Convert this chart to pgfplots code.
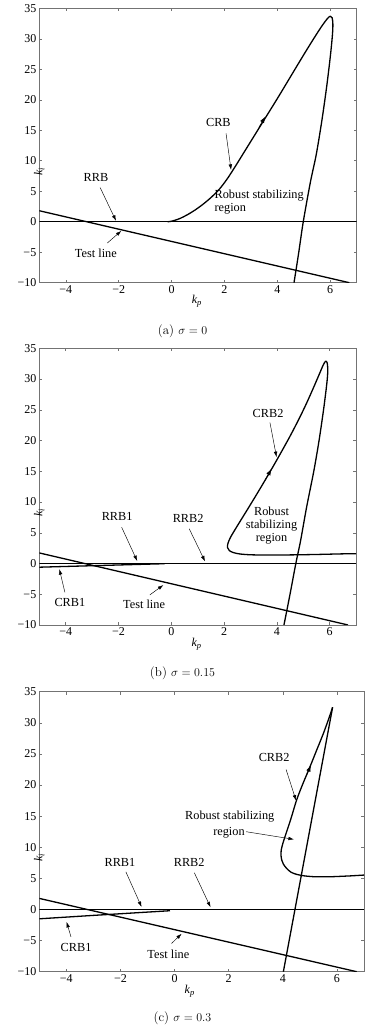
\documentclass[border=0pt]{standalone}
\usepackage{fontspec}
\usepackage{pgfplots}
\pgfplotsset{compat=1.18}
\usetikzlibrary{arrows.meta}
\newfontfamily\tnr{Liberation Serif}
\newcommand{\lbl}{\tnr\fontsize{12.3}{13}\selectfont}
\newcommand{\kp}{{\tnr\fontsize{12}{12}\selectfont\itshape k\raisebox{-0.35ex}{\fontsize{8.5}{8.5}\selectfont p}}}
\newcommand{\ki}{{\tnr\fontsize{12}{12}\selectfont\itshape k\raisebox{-0.35ex}{\fontsize{8.5}{8.5}\selectfont i}}}
\tikzset{
  arr/.style={-{Latex[length=5.5pt,width=3.6pt]}, line width=0.45pt, black},
  dirarr/.style={-{Latex[length=6.5pt,width=4.5pt]}, line width=0.6pt, black},
}
\pgfplotsset{
  myax/.style={
    scale only axis, anchor=south west,
    xmin=-5, xmax=7, ymin=-10, ymax=35,
    xtick={-4,-2,0,2,4,6}, xticklabels={−4,−2,0,2,4,6},
    ytick={-10,-5,0,5,10,15,20,25,30,35},
    yticklabels={−10,−5,0,5,10,15,20,25,30,35},
    tick align=inside, major tick length=3pt,
    axis line style={draw=black!55, line width=0.6pt},
    tick style={draw=black!55, line width=0.5pt},
    ticklabel style={font=\tnr\fontsize{12}{12}\selectfont},
    xticklabel style={yshift=1pt},
    yticklabel style={xshift=0.5pt},
    ylabel={\ki},
    ylabel style={at={(rel axis cs:0,0.5)}, xshift=-26pt, anchor=center},
    every axis plot/.append style={black, line width=1.3pt, line join=round, mark=none},
  },
}
\begin{document}
\begin{tikzpicture}
\useasboundingbox (0pt,0pt) rectangle (377pt,1029pt);

% ---------------- (a) ----------------
\begin{axis}[myax, at={(39.3pt,746.3pt)}, width=317.4pt, height=274.4pt,
  xlabel={\kp}, xlabel style={at={(axis cs:0.95,-10)}, yshift=-19pt, anchor=center}]
\addplot[line width=1.5pt] coordinates {(-5,0) (7,0)};
\addplot[] coordinates {(-5,1.8) (6.72,-10)};
\addplot[smooth, tension=0.5] coordinates {
(-0.15,0) (0,0.08) (0.3,0.5) (0.6,1.15) (0.9,1.95) (1.2,2.9) (1.5,4.0)
(1.8,5.3) (2.1,7.0) (2.4,9.0) (2.7,11.1) (3.0,13.2) (3.5,16.7) (4.0,20.2)
(4.5,23.8) (5.0,27.4) (5.4,30.2) (5.7,32.2) (5.9,33.35) (6.0,33.7)
(6.07,33.45) (6.1,32.4) (6.08,30.5) (6.0,27) (5.86,22) (5.68,16.5)
(5.47,11) (5.25,6.5) (4.98,0) (4.8,-5.3) (4.63,-10)};
\draw[arr] (axis cs:-2.70,5.6) -- (axis cs:-2.10,0.15);
\node[font=\lbl] at (axis cs:-2.86,7.3) {RRB};
\draw[arr] (axis cs:-2.43,-3.5) -- (axis cs:-1.90,-1.5);
\node[font=\lbl] at (axis cs:-2.86,-5.1) {Test line};
\draw[arr] (axis cs:2.06,14.5) -- (axis cs:2.25,8.5);
\node[font=\lbl] at (axis cs:1.77,16.3) {CRB};
\draw[dirarr] (axis cs:3.30,15.45) -- (axis cs:3.55,17.25);
\node[font=\lbl, anchor=west, align=left, inner sep=0pt] at (axis cs:1.62,3.2) {Robust stabilizing\\region};
\end{axis}
\node[font=\fontsize{13}{15}\selectfont] at (182.5pt,697.3pt) {(a) $\sigma=0$};

% ---------------- (b) ----------------
\begin{axis}[myax, at={(39.3pt,404pt)}, width=316.7pt, height=276.7pt,
  xlabel={\kp}, xlabel style={at={(axis cs:0.95,-10)}, yshift=-19pt, anchor=center}]
\addplot[line width=1.5pt] coordinates {(-5,0) (7,0)};
\addplot[] coordinates {(-5,1.72) (6.70,-10)};
\addplot[] coordinates {(-5,-0.6) (-3,-0.36) (-1,-0.12) (-0.25,-0.03)};
\addplot[smooth, tension=0.5] coordinates {
(7.0,1.6) (6.5,1.57) (6.0,1.52) (5.5,1.47) (5.0,1.43) (4.5,1.4) (4.0,1.38)
(3.5,1.38) (3.0,1.42) (2.6,1.55) (2.35,1.78) (2.2,2.1) (2.13,2.6) (2.15,3.3)
(2.25,4.3) (2.5,6.1) (2.86,8.6) (3.3,11.7) (3.74,14.9) (4.1,17.6) (4.5,20.7)
(4.85,23.6) (5.13,26.1) (5.4,28.7) (5.62,30.9) (5.76,32.3) (5.85,32.9)
(5.91,32.6) (5.93,31.4) (5.9,29.5) (5.78,25.3) (5.6,20) (5.4,15)
(5.13,9.2) (4.9,3.7) (4.72,0) (4.5,-5) (4.27,-10)};
\draw[arr] (axis cs:-1.88,5.9) -- (axis cs:-1.29,0.4);
\node[font=\lbl] at (axis cs:-2.05,7.65) {RRB1};
\draw[arr] (axis cs:0.68,5.65) -- (axis cs:1.28,0.35);
\node[font=\lbl] at (axis cs:0.64,7.4) {RRB2};
\draw[arr] (axis cs:-4.03,-4.7) -- (axis cs:-4.24,-0.9);
\node[font=\lbl] at (axis cs:-3.84,-6.35) {CRB1};
\draw[arr] (axis cs:-0.81,-5.1) -- (axis cs:-0.30,-3.5);
\node[font=\lbl] at (axis cs:-1.03,-6.65) {Test line};
\draw[arr] (axis cs:3.74,22.9) -- (axis cs:3.99,17.3);
\node[font=\lbl] at (axis cs:3.67,24.45) {CRB2};
\draw[dirarr] (axis cs:3.55,13.5) -- (axis cs:3.80,15.4);
\node[font=\lbl, align=center] at (axis cs:3.8,6.1) {Robust\\stabilizing\\region};
\end{axis}
\node[font=\fontsize{13}{15}\selectfont] at (182.5pt,355.7pt) {(b) $\sigma=0.15$};

% ---------------- (c) ----------------
\begin{axis}[myax, at={(39.3pt,57.3pt)}, width=324.7pt, height=280pt,
  xlabel={\kp}, xlabel style={at={(axis cs:0.55,-10)}, yshift=-20pt, anchor=center}]
\addplot[line width=1.5pt] coordinates {(-5,0) (7,0)};
\addplot[] coordinates {(-5,1.78) (6.73,-10)};
\addplot[] coordinates {(-5,-1.5) (-3,-0.95) (-1,-0.42) (-0.17,-0.2)};
\addplot[smooth, tension=0.5] coordinates {
(7.0,5.53) (6.5,5.4) (6.0,5.3) (5.74,5.26) (5.4,5.25) (5.13,5.27) (4.8,5.4)
(4.51,5.64) (4.3,6.0) (4.14,6.6) (4.02,7.3) (3.96,7.94) (3.93,8.8) (3.94,9.55)
(4.0,10.6) (4.08,11.7) (4.3,14.6) (4.51,17.6) (4.75,20.3) (5.0,22.9)
(5.25,25.6) (5.5,28.3) (5.7,30.7) (5.84,32.5)};
\addplot[] coordinates {(5.84,32.5) (4.02,-10)};
\draw[arr] (axis cs:-1.80,6.05) -- (axis cs:-1.22,0.4);
\node[font=\lbl] at (axis cs:-2.02,7.55) {RRB1};
\draw[arr] (axis cs:0.73,5.9) -- (axis cs:1.33,0.35);
\node[font=\lbl] at (axis cs:0.54,7.55) {RRB2};
\draw[arr] (axis cs:-3.83,-4.4) -- (axis cs:-3.99,-2.0);
\node[font=\lbl] at (axis cs:-3.64,-6.15) {CRB1};
\draw[arr] (axis cs:-0.11,-5.45) -- (axis cs:0.26,-3.9);
\node[font=\lbl] at (axis cs:-0.23,-7.2) {Test line};
\draw[arr] (axis cs:4.12,22.5) -- (axis cs:4.49,17.5);
\node[font=\lbl] at (axis cs:3.68,24.35) {CRB2};
\draw[dirarr] (axis cs:4.86,21.4) -- (axis cs:5.04,23.2);
\node[font=\lbl] at (axis cs:2.04,14.9) {Robust stabilizing};
\node[font=\lbl] at (axis cs:2.01,12.35) {region};
\draw[arr] (axis cs:2.64,12.5) -- (axis cs:4.41,11.27);
\end{axis}
\node[font=\fontsize{13}{15}\selectfont] at (182.5pt,11pt) {(c) $\sigma=0.3$};
\end{tikzpicture}
\end{document}
